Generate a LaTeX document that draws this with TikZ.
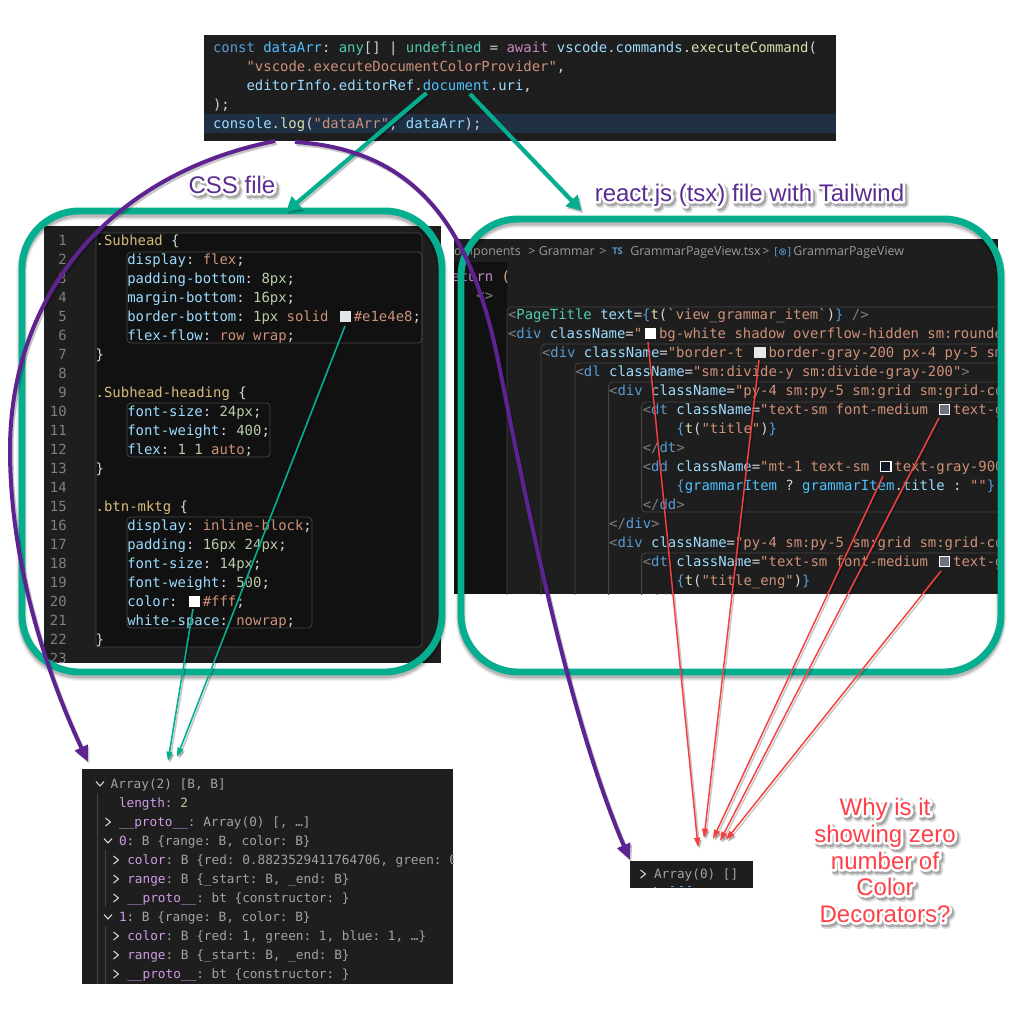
\documentclass[tikz,border=0pt]{standalone}
\usepackage{fontspec}
\usetikzlibrary{arrows.meta}
\setmainfont{Liberation Sans}
\newfontfamily\codefont{DejaVu Sans Mono}
\newfontfamily\uifont{Open Sans}
\newfontfamily\symfont{DejaVu Sans}
\newfontfamily\halofont[FakeBold=22]{Liberation Sans}
\newfontfamily\haloblur[FakeBold=30]{Liberation Sans}
\definecolor{frameG}{HTML}{06AE90}
\definecolor{arcP}{HTML}{5F2391}
\definecolor{lineR}{HTML}{F54040}
\definecolor{lblP}{HTML}{5C2D91}
\definecolor{lblR}{HTML}{FF4048}
\definecolor{shadeA}{HTML}{A8A8A8}
\definecolor{shadeB}{HTML}{DEDEDE}
\definecolor{kKw}{HTML}{569CD6}
\definecolor{kVb}{HTML}{4FC1FF}
\definecolor{kVa}{HTML}{9CDCFE}
\definecolor{kTy}{HTML}{4EC9B0}
\definecolor{kSt}{HTML}{CE9178}
\definecolor{kFn}{HTML}{DCDCAA}
\definecolor{kCt}{HTML}{C586C0}
\definecolor{kPu}{HTML}{D4D4D4}
\definecolor{kNu}{HTML}{B5CEA8}
\definecolor{kSe}{HTML}{D7BA7D}
\definecolor{kBr}{HTML}{808080}
\definecolor{kGr}{HTML}{A3A3A3}
\definecolor{kNm}{HTML}{CF9BE8}
\definecolor{kGuide}{HTML}{454545}
\definecolor{kBg}{HTML}{1E1E1E}
\definecolor{kIn}{HTML}{111111}
\definecolor{kHi}{HTML}{1F3044}
\definecolor{kSA}{HTML}{E1E4E8}
\definecolor{kSB}{HTML}{E5E7EB}
\definecolor{kSC}{HTML}{6B7280}
\definecolor{kSD}{HTML}{111827}
\newcommand{\cKw}[1]{\textcolor{kKw}{#1}}
\newcommand{\cVb}[1]{\textcolor{kVb}{#1}}
\newcommand{\cVa}[1]{\textcolor{kVa}{#1}}
\newcommand{\cTy}[1]{\textcolor{kTy}{#1}}
\newcommand{\cSt}[1]{\textcolor{kSt}{#1}}
\newcommand{\cFn}[1]{\textcolor{kFn}{#1}}
\newcommand{\cCt}[1]{\textcolor{kCt}{#1}}
\newcommand{\cNu}[1]{\textcolor{kNu}{#1}}
\newcommand{\cSe}[1]{\textcolor{kSe}{#1}}
\newcommand{\cBr}[1]{\textcolor{kBr}{#1}}
\newcommand{\cNm}[1]{\textcolor{kNm}{#1}}
\newcommand{\swatchbox}[2]{\kern2pt\rlap{\textcolor{#1}{\rule[-0.9pt]{8.4pt}{8.4pt}}}\kern0.8pt\textcolor{#2}{\rule[-0.1pt]{6.8pt}{6.8pt}}\kern0.8pt\kern2.2pt}
\newcommand{\halotext}[2]{%
  \rlap{\kern2.0pt\raisebox{-2.4pt}{\haloblur\textcolor{shadeB}{#2}}}%
  \rlap{\kern1.5pt\raisebox{-1.8pt}{\halofont\textcolor{shadeA}{#2}}}%
  \rlap{\halofont\textcolor{white}{#2}}%
  \textcolor{#1}{#2}}
\newcommand{\softconn}[2]{%
  \draw[#1,draw=black,opacity=.22,transform canvas={shift={(1.2pt,-1.6pt)}}] #2;
  \draw[#1] #2;}
\newcommand{\frameat}[2]{%
  \draw[draw=black,opacity=.05,line width=8.5pt,rounded corners=43pt,transform canvas={shift={(0pt,-2.5pt)}}] #1 rectangle #2;
  \draw[draw=black,opacity=.10,line width=6.5pt,rounded corners=43pt,transform canvas={shift={(0pt,-2.5pt)}}] #1 rectangle #2;
  \draw[draw=black,opacity=.15,line width=5pt,rounded corners=43pt,transform canvas={shift={(0pt,-2.2pt)}}] #1 rectangle #2;
  \draw[frameline] #1 rectangle #2;}
\tikzset{
  code/.style={anchor=base west,inner sep=0pt,outer sep=0pt,text=kPu,font=\codefont\fontsize{10.45}{12}\selectfont\frenchspacing},
  con/.style={anchor=base west,inner sep=0pt,outer sep=0pt,text=kGr,font=\codefont\fontsize{9.55}{12}\selectfont\frenchspacing},
  lnum/.style={anchor=base east,inner sep=0pt,text=kBr,font=\codefont\fontsize{10.45}{12}\selectfont},
  crumb/.style={anchor=base west,inner sep=0pt,text=kGr!110,font=\uifont\fontsize{9.3}{11}\selectfont},
  panel/.style={fill=kBg,draw=none},
  guide/.style={draw=kGuide,line width=0.6pt},
  frameline/.style={draw=frameG,line width=5.2pt,rounded corners=43pt},
  bigG/.style={draw=frameG,line width=3.1pt,-{Triangle[length=11pt,width=12pt]}},
  thinG/.style={draw=frameG,line width=1.2pt,-{Triangle[length=7pt,width=4.5pt]}},
  thinR/.style={draw=lineR,line width=1.1pt,-{Triangle[length=7pt,width=4.5pt]}},
  bigP/.style={draw=arcP,line width=3pt,-{Triangle[length=12pt,width=10pt]}},
  lbl/.style={anchor=base,inner sep=0pt,font=\fontsize{18}{20}\selectfont},
  chev/.style={draw=kPu!85,line width=0.8pt}
}
\newcommand{\chevR}[2]{\draw[chev] (#1-2.5,#2-4) -- (#1+2.5,#2) -- (#1-2.5,#2+4);}
\newcommand{\chevD}[2]{\draw[chev] (#1-4,#2-2.5) -- (#1,#2+2) -- (#1+4,#2-2.5);}
\begin{document}
\begin{tikzpicture}[x=0.75pt,y=-0.75pt,line join=round]
\useasboundingbox (0,0) rectangle (1021,1011);
\fill[white] (0,0) rectangle (1021,1011);

%% top panel
\path[panel] (204,35) rectangle (836,141);
\fill[kHi] (204,114) rectangle (836,133);
\node[code] (top1) at (213,52) {\cKw{const} \cVb{dataArr}: \cTy{any}[] | \cTy{undefined} = \cCt{await} \cVa{vscode}.\cVa{commands}.\cFn{executeCommand}(};
\node[code] (top2) at (246.6,71) {\cSt{"vscode.executeDocumentColorProvider"},};
\node[code] (top3) at (246.6,90) {\cVa{editorInfo}.\cVa{editorRef}.\cVb{document}.\cVa{uri},};
\node[code] (top4) at (213,109) {);};
\node[code] (top5) at (213,128) {\cVa{console}.\cFn{log}(\cSt{"dataArr"}, \cVa{dataArr});};

%% css panel
\path[panel] (44,226) rectangle (441,663);
\fill[kIn,draw=kGuide,line width=0.6pt,rounded corners=3pt] (96,233) rectangle (422,647);
\draw[guide,rounded corners=3pt] (127,252) rectangle (422,343);
\draw[guide,rounded corners=3pt] (127,403) rectangle (270,457);
\draw[guide,rounded corners=3pt] (127,517) rectangle (312,628);
\begin{scope}
\clip (44,226) rectangle (441,663);
\foreach \n in {1,...,23} \node[lnum] (ln\n) at (67,{245+19*(\n-1)}) {\n};
\end{scope}
\node[code] (c1) at (95.7,245) {\cSe{.Subhead} \{};
\node[code] (c2) at (127.3,264) {\cVa{display}: \cSt{flex};};
\node[code] (c3) at (127.3,283) {\cVa{padding-bottom}: \cNu{8px};};
\node[code] (c4) at (127.3,302) {\cVa{margin-bottom}: \cNu{16px};};
\node[code] (c5) at (127.3,321) {\cVa{border-bottom}: \cNu{1px} \cSt{solid} \swatchbox{kSA}{kSA}\cSt{\#e1e4e8};};
\node[code] (c6) at (127.3,340) {\cVa{flex-flow}: \cSt{row wrap};};
\node[code] (c7) at (95.7,359) {\}};
\node[code] (c9) at (95.7,397) {\cSe{.Subhead-heading} \{};
\node[code] (c10) at (127.3,416) {\cVa{font-size}: \cNu{24px};};
\node[code] (c11) at (127.3,435) {\cVa{font-weight}: \cNu{400};};
\node[code] (c12) at (127.3,454) {\cVa{flex}: \cNu{1 1} \cSt{auto};};
\node[code] (c13) at (95.7,473) {\}};
\node[code] (c15) at (95.7,511) {\cSe{.btn-mktg} \{};
\node[code] (c16) at (127.3,530) {\cVa{display}: \cSt{inline-block};};
\node[code] (c17) at (127.3,549) {\cVa{padding}: \cNu{16px 24px};};
\node[code] (c18) at (127.3,568) {\cVa{font-size}: \cNu{14px};};
\node[code] (c19) at (127.3,587) {\cVa{font-weight}: \cNu{500};};
\node[code] (c20) at (127.3,606) {\cVa{color}: \swatchbox{white}{white}\cSt{\#fff};};
\node[code] (c21) at (127.3,625) {\cVa{white-space}: \cSt{nowrap};};
\node[code] (c22) at (95.7,644) {\}};

%% tsx panel
\path[panel] (454,239) rectangle (998,594);
\fill[kIn] (454,262) rectangle (507,594);
\begin{scope}
\clip (454,239) rectangle (998,594);
\draw[guide,rounded corners=3pt] (507,307) rectangle (1010,620);
\draw[guide,rounded corners=3pt] (541,344) rectangle (1010,620);
\draw[guide,rounded corners=3pt] (575,363) rectangle (1010,620);
\draw[guide,rounded corners=3pt] (608.6,382) rectangle (1010,620);
\draw[guide,rounded corners=3pt] (641.6,402) rectangle (1010,512);
\draw[guide,rounded corners=3pt] (641.6,553) rectangle (1010,620);
\node[crumb,anchor=base east] (b1) at (521,255.5) {components};
\node[crumb] (b2) at (528,255.5) {>};
\node[crumb] (b3) at (538.6,255.5) {Grammar};
\node[crumb] (b4) at (599,255.5) {>};
\node[crumb,text=kKw,font=\uifont\bfseries\fontsize{7}{8}\selectfont] (b5) at (612,254.5) {TS};
\node[crumb] (b6) at (630,255.5) {GrammarPageView.tsx};
\node[crumb] (b7) at (762,255.5) {>};
\node[crumb,text=kKw,font=\symfont\fontsize{7.8}{9}\selectfont] (b8) at (774,255) {[⊗]};
\node[crumb] (b9) at (793,255.5) {GrammarPageView};
\node[code] (t1) at (443,281) {\cCt{return} \textcolor{kSe}{(}};
\node[code] (t2) at (476.4,300) {\cBr{<>}};
\node[code] (t3) at (508,319) {\cBr{<}\cTy{PageTitle} \cVa{text}=\cKw{\{}\cFn{t}(\cSt{`view\_grammar\_item`})\cKw{\}} \cBr{/>}};
\node[code] (t4) at (508,338) {\cBr{<}\cKw{div} \cVa{className}=\cSt{"}\swatchbox{white}{white}\cSt{bg-white shadow overflow-hidden sm:rounded-lg"}\cBr{>}};
\node[code] (t5) at (542,357) {\cBr{<}\cKw{div} \cVa{className}=\cSt{"border-t }\swatchbox{kSB}{kSB}\cSt{border-gray-200 px-4 py-5 sm:px-6"}\cBr{>}};
\node[code] (t6) at (575.6,376) {\cBr{<}\cKw{dl} \cVa{className}=\cSt{"sm:divide-y sm:divide-gray-200"}\cBr{>}};
\node[code] (t7) at (609.2,395) {\cBr{<}\cKw{div} \cVa{className}=\cSt{"py-4 sm:py-5 sm:grid sm:grid-cols-3 sm:gap-4"}\cBr{>}};
\node[code] (t8) at (642.8,414) {\cBr{<}\cKw{dt} \cVa{className}=\cSt{"text-sm font-medium }\swatchbox{white}{kSC}\cSt{text-gray-500"}\cBr{>}};
\node[code] (t9) at (676.4,433) {\cKw{\{}\cFn{t}(\cSt{"title"})\cKw{\}}};
\node[code] (t10) at (642.8,452) {\cBr{</}\cKw{dt}\cBr{>}};
\node[code] (t11) at (642.8,471) {\cBr{<}\cKw{dd} \cVa{className}=\cSt{"mt-1 text-sm }\swatchbox{white}{kSD}\cSt{text-gray-900 sm:mt-0"}\cBr{>}};
\node[code] (t12) at (676.4,490) {\cKw{\{}\cVb{grammarItem} ? \cVb{grammarItem}.\cVa{title} : \cSt{""}\cKw{\}}};
\node[code] (t13) at (642.8,509) {\cBr{</}\cKw{dd}\cBr{>}};
\node[code] (t14) at (609.2,528) {\cBr{</}\cKw{div}\cBr{>}};
\node[code] (t15) at (609.2,547) {\cBr{<}\cKw{div} \cVa{className}=\cSt{"py-4 sm:py-5 sm:grid sm:grid-cols-3 sm:gap-4"}\cBr{>}};
\node[code] (t16) at (642.8,566) {\cBr{<}\cKw{dt} \cVa{className}=\cSt{"text-sm font-medium }\swatchbox{white}{kSC}\cSt{text-gray-500"}\cBr{>}};
\node[code] (t17) at (676.4,585) {\cKw{\{}\cFn{t}(\cSt{"title\_eng"})\cKw{\}}};
\node[code] (t18) at (642.8,604) {\cBr{</}\cKw{dt}\cBr{>}};
\end{scope}

%% console 1
\path[panel] (82,769) rectangle (453,984);
\begin{scope}
\clip (82,769) rectangle (453,984);
\draw[guide] (97,793) -- (97,984);
\draw[guide] (105.7,850) -- (105.7,907);
\draw[guide] (105.7,926) -- (105.7,984);
\chevD{100}{784}
\chevR{108}{822}
\chevD{108}{841}
\chevR{116}{860}
\chevR{116}{879}
\chevR{116}{898}
\chevD{108}{917}
\chevR{116}{936}
\chevR{116}{955}
\chevR{116}{974}
\node[con] (a1) at (110.7,788.5) {Array(2) [B, B]};
\node[con] (a2) at (119,807.5) {\cNm{length}: \textcolor{kNu}{2}};
\node[con] (a3) at (119,826.5) {\cNm{\_\_proto\_\_}: Array(0) [, …]};
\node[con] (a4) at (119,845.5) {\cNm{0:} B \{range: B, color: B\}};
\node[con] (a5) at (127.3,864.5) {\cNm{color}: B \{red: 0.8823529411764706, green: 0.89\}};
\node[con] (a6) at (127.3,883.5) {\cNm{range}: B \{\_start: B, \_end: B\}};
\node[con] (a7) at (127.3,902.5) {\cNm{\_\_proto\_\_}: bt \{constructor: \}};
\node[con] (a8) at (119,921.5) {\cNm{1:} B \{range: B, color: B\}};
\node[con] (a9) at (127.3,940.5) {\cNm{color}: B \{red: 1, green: 1, blue: 1, …\}};
\node[con] (a10) at (127.3,959.5) {\cNm{range}: B \{\_start: B, \_end: B\}};
\node[con] (a11) at (127.3,978.5) {\cNm{\_\_proto\_\_}: bt \{constructor: \}};
\end{scope}

%% console 2
\path[panel] (630,861) rectangle (753,888);
\chevR{643}{874}
\node[con] (z1) at (654,878.5) {Array(0) []};
\draw[kKw,line width=0.9pt] (655,886.5) -- (655,888) (671,886.5) -- (674,886.5) (680,886.5) -- (683,886.5) (688,886.5) -- (691,886.5);

%% frames
\frameat{(22,211)}{(442,672)}
\frameat{(461,219)}{(1001,672)}

%% endpoints
\coordinate (gA) at (426.5,93);
\coordinate (gAt) at (286,212);
\coordinate (gB) at (470,94);
\coordinate (gBt) at (581.6,211);
\coordinate (gC) at (345,326);
\coordinate (gCt) at (177,757);
\coordinate (gD) at (193,609);
\coordinate (gDt) at (168,761);
\coordinate (r1) at (648,342);
\coordinate (r1t) at (698,847);
\coordinate (r2) at (759,360);
\coordinate (r2t) at (704,838);
\coordinate (r3) at (883,476);
\coordinate (r3t) at (713,839);
\coordinate (r4) at (939,418);
\coordinate (r4t) at (720,841);
\coordinate (r5) at (941,571);
\coordinate (r5t) at (726,840);
\coordinate (pA) at (275,141);
\coordinate (pAm) at (10,450);
\coordinate (pAt) at (88,762);
\coordinate (pB) at (295,142);
\coordinate (pBm) at (500,370);
\coordinate (pBt) at (630,860);

%% connectors
\softconn{bigG}{(gA) -- (gAt)}
\softconn{bigG}{(gB) -- (gBt)}
\softconn{thinG}{(gC) -- (gCt)}
\softconn{thinG}{(gD) -- (gDt)}
\softconn{thinR}{(r1) -- (r1t)}
\softconn{thinR}{(r2) -- (r2t)}
\softconn{thinR}{(r3) -- (r3t)}
\softconn{thinR}{(r4) -- (r4t)}
\softconn{thinR}{(r5) -- (r5t)}
\softconn{bigP}{(pA) .. controls (105,175) and (10,300) .. (pAm) .. controls (10,560) and (45,670) .. (pAt)}
\softconn{bigP}{(pB) .. controls (425,150) and (475,240) .. (pBm) .. controls (530,520) and (570,720) .. (pBt)}

%% labels
\node[lbl] (css) at (232,193) {\halotext{lblP}{CSS file}};
\node[lbl] (react) at (749.5,201) {\halotext{lblP}{react.js (tsx) file with Tailwind}};
\node[lbl] (q1) at (885,815) {\halotext{lblR}{Why is it}};
\node[lbl] (q2) at (885,842) {\halotext{lblR}{showing zero}};
\node[lbl] (q3) at (885,869) {\halotext{lblR}{number of}};
\node[lbl] (q4) at (885,895) {\halotext{lblR}{Color}};
\node[lbl] (q5) at (885,922) {\halotext{lblR}{Decorators?}};
\end{tikzpicture}
\end{document}
